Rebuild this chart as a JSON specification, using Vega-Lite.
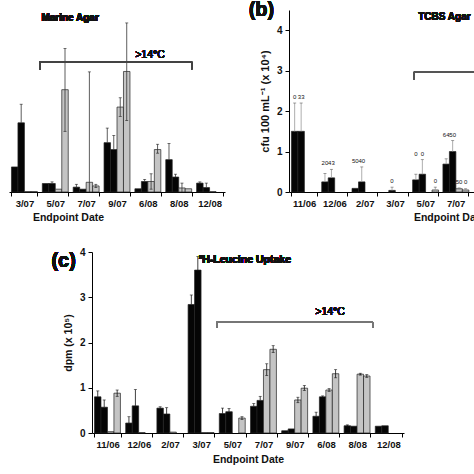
{
  "$schema": "https://vega.github.io/schema/vega-lite/v6.json",
  "padding": {"left": 9, "top": 0, "right": 0, "bottom": 0},
  "background": "white",
  "bounds": "full",
  "spacing": 24,
  "config": {
    "font": "Liberation Sans",
    "view": {"stroke": null},
    "axis": {"grid": false, "domainColor": "#000", "tickColor": "#000", "tickSize": 4, "labelColor": "#111", "labelFontWeight": "bold", "labelFontSize": 9.5, "titleFontWeight": "bold", "titleFontSize": 10.5, "titleColor": "#111", "labelPadding": 2},
    "axisX": {"labelAngle": 0, "tickBand": "extent", "titlePadding": 5},
    "axisY": {"labelFontSize": 10, "titlePadding": 6, "labelPadding": 3},
    "bar": {"stroke": "#222", "strokeWidth": 0.7}
  },
  "datasets": {
    "a": [
      {"d": "3/07", "s": "s1", "v": 0.62},
      {"d": "3/07", "s": "s2", "v": 1.71, "lo": 1.71, "hi": 2.17},
      {"d": "3/07", "s": "s3", "v": 0.01},
      {"d": "3/07", "s": "s4", "v": 0.01},
      {"d": "5/07", "s": "s1", "v": 0.21},
      {"d": "5/07", "s": "s2", "v": 0.21, "lo": 0.21, "hi": 0.25},
      {"d": "5/07", "s": "s3", "v": 0.07},
      {"d": "5/07", "s": "s4", "v": 2.53, "lo": 1.5, "hi": 3.55},
      {"d": "7/07", "s": "s1", "v": 0.12, "lo": 0.12, "hi": 0.19},
      {"d": "7/07", "s": "s2", "v": 0.07},
      {"d": "7/07", "s": "s3", "v": 0.24, "lo": 0, "hi": 2.97},
      {"d": "7/07", "s": "s4", "v": 0.15, "lo": 0.11, "hi": 0.19},
      {"d": "9/07", "s": "s1", "v": 1.22, "lo": 1.22, "hi": 1.58},
      {"d": "9/07", "s": "s2", "v": 1.05, "lo": 1.05, "hi": 1.4},
      {"d": "9/07", "s": "s3", "v": 2.1, "lo": 1.87, "hi": 2.33},
      {"d": "9/07", "s": "s4", "v": 2.98, "lo": 1.77, "hi": 4.18},
      {"d": "6/08", "s": "s1", "v": 0.08},
      {"d": "6/08", "s": "s2", "v": 0.26, "lo": 0.26, "hi": 0.31},
      {"d": "6/08", "s": "s3", "v": 0.26, "lo": 0.07, "hi": 0.45},
      {"d": "6/08", "s": "s4", "v": 1.05, "lo": 0.96, "hi": 1.18},
      {"d": "8/08", "s": "s1", "v": 0.8, "lo": 0.8, "hi": 1.2},
      {"d": "8/08", "s": "s2", "v": 0.37, "lo": 0.37, "hi": 0.44},
      {"d": "8/08", "s": "s3", "v": 0.1, "lo": 0, "hi": 0.22},
      {"d": "8/08", "s": "s4", "v": 0.08},
      {"d": "12/08", "s": "s1", "v": 0.22, "lo": 0.22, "hi": 0.25},
      {"d": "12/08", "s": "s2", "v": 0.11, "lo": 0.11, "hi": 0.22},
      {"d": "12/08", "s": "s3", "v": 0.01}
    ],
    "b": [
      {"d": "11/06", "s": "s1", "g": 1, "v": 1.5, "lo": 1.5, "hi": 2.2, "lab": "0"},
      {"d": "11/06", "s": "s2", "g": 1, "v": 1.5, "lo": 1.5, "hi": 2.2, "lab": "33"},
      {"d": "12/06", "s": "s1", "g": 1, "v": 0.25, "lo": 0.25, "hi": 0.46, "lab": "20"},
      {"d": "12/06", "s": "s2", "g": 1, "v": 0.35, "lo": 0.35, "hi": 0.56, "lab": "43"},
      {"d": "2/07", "s": "s1", "g": 1, "v": 0.09, "lab": "50"},
      {"d": "2/07", "s": "s2", "g": 1, "v": 0.25, "lo": 0.25, "hi": 0.62, "lab": "40"},
      {"d": "3/07", "s": "s2", "g": 1, "v": 0.04, "lo": 0.04, "hi": 0.12, "lab": "0"},
      {"d": "5/07", "s": "s1", "g": 1, "v": 0.3, "lo": 0.3, "hi": 0.44, "lab": "0"},
      {"d": "5/07", "s": "s2", "g": 1, "v": 0.44, "lo": 0.44, "hi": 0.8, "lab": "0"},
      {"d": "5/07", "s": "s4", "g": 2, "v": 0.05, "lo": 0, "hi": 0.12, "lab": "0"},
      {"d": "7/07", "s": "s1", "g": 1, "v": 0.69, "lo": 0.69, "hi": 0.82, "lab": "64"},
      {"d": "7/07", "s": "s2", "g": 1, "v": 1.0, "lo": 1.0, "hi": 1.27, "lab": "50"},
      {"d": "7/07", "s": "s3", "g": 2, "v": 0.08, "lo": 0.06, "hi": 0.1, "lab": "50"},
      {"d": "7/07", "s": "s4", "g": 2, "v": 0.05, "lo": 0.03, "hi": 0.08, "lab": "0"}
    ],
    "c": [
      {"d": "11/06", "s": "s1", "v": 0.8, "lo": 0.8, "hi": 0.93},
      {"d": "11/06", "s": "s2", "v": 0.57, "lo": 0.57, "hi": 0.73},
      {"d": "11/06", "s": "s3", "v": 0.03},
      {"d": "11/06", "s": "s4", "v": 0.88, "lo": 0.81, "hi": 0.95},
      {"d": "12/06", "s": "s1", "v": 0.22, "lo": 0.22, "hi": 0.36},
      {"d": "12/06", "s": "s2", "v": 0.6, "lo": 0.6, "hi": 0.96},
      {"d": "12/06", "s": "s3", "v": 0.01},
      {"d": "2/07", "s": "s1", "v": 0.55, "lo": 0.55, "hi": 0.58},
      {"d": "2/07", "s": "s2", "v": 0.42, "lo": 0.42, "hi": 0.56},
      {"d": "2/07", "s": "s3", "v": 0.02},
      {"d": "3/07", "s": "s1", "v": 2.84, "lo": 2.84, "hi": 3.05},
      {"d": "3/07", "s": "s2", "v": 3.6, "lo": 3.6, "hi": 3.9},
      {"d": "3/07", "s": "s3", "v": 0.01},
      {"d": "3/07", "s": "s4", "v": 0.01},
      {"d": "5/07", "s": "s1", "v": 0.43, "lo": 0.43, "hi": 0.55},
      {"d": "5/07", "s": "s2", "v": 0.47, "lo": 0.47, "hi": 0.54},
      {"d": "5/07", "s": "s4", "v": 0.33, "lo": 0.3, "hi": 0.36},
      {"d": "7/07", "s": "s1", "v": 0.59, "lo": 0.59, "hi": 0.65},
      {"d": "7/07", "s": "s2", "v": 0.72, "lo": 0.72, "hi": 0.81},
      {"d": "7/07", "s": "s3", "v": 1.4, "lo": 1.27, "hi": 1.53},
      {"d": "7/07", "s": "s4", "v": 1.85, "lo": 1.78, "hi": 1.93},
      {"d": "9/07", "s": "s1", "v": 0.05},
      {"d": "9/07", "s": "s2", "v": 0.09},
      {"d": "9/07", "s": "s3", "v": 0.73, "lo": 0.67, "hi": 0.79},
      {"d": "9/07", "s": "s4", "v": 0.99, "lo": 0.94, "hi": 1.05},
      {"d": "6/08", "s": "s1", "v": 0.37, "lo": 0.37, "hi": 0.46},
      {"d": "6/08", "s": "s2", "v": 0.8, "lo": 0.8, "hi": 0.82},
      {"d": "6/08", "s": "s3", "v": 0.95, "lo": 0.92, "hi": 0.98},
      {"d": "6/08", "s": "s4", "v": 1.31, "lo": 1.22, "hi": 1.4},
      {"d": "8/08", "s": "s1", "v": 0.16, "lo": 0.15, "hi": 0.18},
      {"d": "8/08", "s": "s2", "v": 0.15},
      {"d": "8/08", "s": "s3", "v": 1.3, "lo": 1.28, "hi": 1.32},
      {"d": "8/08", "s": "s4", "v": 1.26, "lo": 1.23, "hi": 1.29},
      {"d": "12/08", "s": "s1", "v": 0.15},
      {"d": "12/08", "s": "s2", "v": 0.16}
    ]
  },
  "vconcat": [
    {
      "hconcat": [
        {
          "width": 216,
          "height": 182,
          "data": {"name": "a"},
          "resolve": {"scale": {"x": "independent"}},
          "layer": [
            {
              "encoding": {
                "x": {"field": "d", "type": "nominal", "sort": null, "scale": {"domain": ["3/07", "5/07", "7/07", "9/07", "6/08", "8/08", "12/08"], "paddingInner": 0.16, "paddingOuter": 0.08}, "axis": {"title": "Endpoint Date", "titleX": 59}},
                "xOffset": {"field": "s", "type": "nominal", "scale": {"domain": ["s1", "s2", "s3", "s4"]}}
              },
              "layer": [
                {"mark": "bar", "encoding": {"y": {"field": "v", "type": "quantitative", "scale": {"domain": [0, 4.5], "nice": false}, "axis": null}, "color": {"field": "s", "type": "nominal", "scale": {"domain": ["s1", "s2", "s3", "s4"], "range": ["#050505", "#050505", "#c4c4c4", "#c4c4c4"]}, "legend": null}}},
                {"transform": [{"filter": "isValid(datum.hi)"}], "mark": {"type": "rule", "color": "#333", "strokeWidth": 0.8}, "encoding": {"y": {"field": "hi", "type": "quantitative", "axis": null}, "y2": {"field": "lo"}}},
                {"transform": [{"filter": "isValid(datum.hi)"}], "mark": {"type": "tick", "color": "#111", "thickness": 0.8, "size": 3}, "encoding": {"y": {"field": "hi", "type": "quantitative", "axis": null}}},
                {"transform": [{"filter": "isValid(datum.lo) && datum.lo < datum.v && datum.lo > 0"}], "mark": {"type": "tick", "color": "#111", "thickness": 0.8, "size": 3}, "encoding": {"y": {"field": "lo", "type": "quantitative", "axis": null}}}
              ]
            },
            {
              "layer": [
                {"mark": {"type": "rule", "color": "#444"}, "encoding": {"x": {"datum": 1, "type": "quantitative", "scale": {"domain": [0, 7]}, "axis": null}, "x2": {"datum": 5.92}, "y": {"datum": 3.22, "type": "quantitative", "axis": null}}},
                {"mark": {"type": "rule", "color": "#444"}, "encoding": {"x": {"datum": 1, "type": "quantitative", "axis": null}, "y": {"datum": 3.22, "type": "quantitative", "axis": null}, "y2": {"datum": 3.03}}},
                {"mark": {"type": "rule", "color": "#444"}, "encoding": {"x": {"datum": 5.92, "type": "quantitative", "axis": null}, "y": {"datum": 3.22, "type": "quantitative", "axis": null}, "y2": {"datum": 3.03}}},
                {"mark": {"type": "text", "text": ">14°C", "fontSize": 10.5, "color": "#111"}, "encoding": {"x": {"datum": 4.57, "type": "quantitative", "axis": null}, "y": {"datum": 3.38, "type": "quantitative", "axis": null}}},
                {"mark": {"type": "text", "text": "Marine Agar", "fontSize": 10, "fontWeight": "bold", "color": "#111"}, "encoding": {"x": {"datum": 1.98, "type": "quantitative", "axis": null}, "y": {"datum": 4.29, "type": "quantitative", "axis": null}}}
              ]
            }
          ]
        },
        {
          "width": 303,
          "height": 182,
          "data": {"name": "b"},
          "resolve": {"scale": {"x": "independent"}},
          "layer": [
            {
              "encoding": {
                "x": {"field": "d", "type": "nominal", "sort": null, "scale": {"domain": ["11/06", "12/06", "2/07", "3/07", "5/07", "7/07", "9/07", "6/08", "8/08", "12/08"], "paddingInner": 0.16, "paddingOuter": 0.08}, "axis": {"title": "Endpoint Date", "titleX": 160}},
                "xOffset": {"field": "s", "type": "nominal", "scale": {"domain": ["s1", "s2", "s3", "s4"]}}
              },
              "layer": [
                {"mark": "bar", "encoding": {"y": {"field": "v", "type": "quantitative", "scale": {"domain": [0, 4.5], "nice": false}, "axis": {"values": [0, 1, 2, 3, 4], "titleFontSize": 11}, "title": "cfu 100 mL⁻¹ (x 10⁴)"}, "color": {"field": "s", "type": "nominal", "scale": {"domain": ["s1", "s2", "s3", "s4"], "range": ["#050505", "#050505", "#c4c4c4", "#c4c4c4"]}, "legend": null}}},
                {"transform": [{"filter": "isValid(datum.hi)"}], "mark": {"type": "rule", "color": "#999", "strokeWidth": 0.8}, "encoding": {"y": {"field": "hi", "type": "quantitative", "title": "cfu 100 mL⁻¹ (x 10⁴)"}, "y2": {"field": "lo"}}},
                {"transform": [{"filter": "isValid(datum.hi)"}], "mark": {"type": "tick", "color": "#555", "thickness": 0.8, "size": 3}, "encoding": {"y": {"field": "hi", "type": "quantitative", "title": "cfu 100 mL⁻¹ (x 10⁴)"}}},
                {"transform": [{"filter": "isValid(datum.lab)"}, {"joinaggregate": [{"op": "max", "field": "hi", "as": "mx"}], "groupby": ["d", "g"]}], "mark": {"type": "text", "fontSize": 6, "dy": -6, "color": "#111"}, "encoding": {"y": {"field": "mx", "type": "quantitative", "title": "cfu 100 mL⁻¹ (x 10⁴)"}, "text": {"field": "lab"}}}
              ]
            },
            {
              "layer": [
                {"mark": {"type": "rule", "color": "#555"}, "encoding": {"x": {"datum": 4.13, "type": "quantitative", "scale": {"domain": [0, 10]}, "axis": null}, "x2": {"datum": 9}, "y": {"datum": 2.97, "type": "quantitative", "title": "cfu 100 mL⁻¹ (x 10⁴)"}}},
                {"mark": {"type": "rule", "color": "#555"}, "encoding": {"x": {"datum": 4.13, "type": "quantitative", "axis": null}, "y": {"datum": 2.97, "type": "quantitative", "title": "cfu 100 mL⁻¹ (x 10⁴)"}, "y2": {"datum": 2.78}}},
                {"mark": {"type": "rule", "color": "#555"}, "encoding": {"x": {"datum": 9, "type": "quantitative", "axis": null}, "y": {"datum": 2.97, "type": "quantitative", "title": "cfu 100 mL⁻¹ (x 10⁴)"}, "y2": {"datum": 2.78}}},
                {"mark": {"type": "text", "text": ">14°C", "fontSize": 10.5, "color": "#111"}, "encoding": {"x": {"datum": 7.6, "type": "quantitative", "axis": null}, "y": {"datum": 3.15, "type": "quantitative", "title": "cfu 100 mL⁻¹ (x 10⁴)"}}},
                {"mark": {"type": "text", "text": "TCBS Agar", "fontSize": 10, "fontWeight": "bold", "color": "#111"}, "encoding": {"x": {"datum": 5.13, "type": "quantitative", "axis": null}, "y": {"datum": 4.33, "type": "quantitative", "title": "cfu 100 mL⁻¹ (x 10⁴)"}}},
                {"mark": {"type": "text", "text": "(b)", "fontSize": 20, "fontWeight": "bold", "color": "#111"}, "encoding": {"x": {"datum": -0.91, "type": "quantitative", "axis": null}, "y": {"datum": 4.495, "type": "quantitative", "title": "cfu 100 mL⁻¹ (x 10⁴)"}}}
              ]
            }
          ]
        }
      ],
      "spacing": 64,
      "bounds": "flush"
    },
    {
      "width": 395,
      "height": 181,
      "data": {"name": "c"},
      "resolve": {"scale": {"x": "independent"}},
      "layer": [
        {
          "encoding": {
            "x": {"field": "d", "type": "nominal", "sort": null, "scale": {"domain": ["11/06", "12/06", "2/07", "3/07", "5/07", "7/07", "9/07", "6/08", "8/08", "12/08"], "range": [83, 395], "paddingInner": 0.16, "paddingOuter": 0.08}, "axis": {"title": "Endpoint Date", "titlePadding": 6}},
            "xOffset": {"field": "s", "type": "nominal", "scale": {"domain": ["s1", "s2", "s3", "s4"]}}
          },
          "layer": [
            {"mark": "bar", "encoding": {"y": {"field": "v", "type": "quantitative", "scale": {"domain": [0, 4], "nice": false}, "axis": {"values": [0, 1, 2, 3, 4], "offset": -83}, "title": "dpm (x 10⁵)"}, "color": {"field": "s", "type": "nominal", "scale": {"domain": ["s1", "s2", "s3", "s4"], "range": ["#050505", "#050505", "#c4c4c4", "#c4c4c4"]}, "legend": null}}},
            {"transform": [{"filter": "isValid(datum.hi)"}], "mark": {"type": "rule", "color": "#111", "strokeWidth": 0.8}, "encoding": {"y": {"field": "hi", "type": "quantitative", "title": "dpm (x 10⁵)"}, "y2": {"field": "lo"}}},
            {"transform": [{"filter": "isValid(datum.hi)"}], "mark": {"type": "tick", "color": "#111", "thickness": 0.8, "size": 3}, "encoding": {"y": {"field": "hi", "type": "quantitative", "title": "dpm (x 10⁵)"}}},
            {"transform": [{"filter": "isValid(datum.lo) && datum.lo < datum.v"}], "mark": {"type": "tick", "color": "#111", "thickness": 0.8, "size": 3}, "encoding": {"y": {"field": "lo", "type": "quantitative", "title": "dpm (x 10⁵)"}}}
          ]
        },
        {
          "layer": [
            {"mark": {"type": "rule", "color": "#777"}, "encoding": {"x": {"datum": 4, "type": "quantitative", "scale": {"domain": [0, 10], "range": [83, 395]}, "axis": null}, "x2": {"datum": 9}, "y": {"datum": 2.45, "type": "quantitative", "title": "dpm (x 10⁵)"}}},
            {"mark": {"type": "rule", "color": "#777"}, "encoding": {"x": {"datum": 4, "type": "quantitative", "axis": null}, "y": {"datum": 2.45, "type": "quantitative", "title": "dpm (x 10⁵)"}, "y2": {"datum": 2.33}}},
            {"mark": {"type": "rule", "color": "#777"}, "encoding": {"x": {"datum": 9, "type": "quantitative", "axis": null}, "y": {"datum": 2.45, "type": "quantitative", "title": "dpm (x 10⁵)"}, "y2": {"datum": 2.33}}},
            {"mark": {"type": "text", "text": ">14°C", "fontSize": 10.5, "color": "#111"}, "encoding": {"x": {"datum": 7.63, "type": "quantitative", "axis": null}, "y": {"datum": 2.67, "type": "quantitative", "title": "dpm (x 10⁵)"}}},
            {"mark": {"type": "text", "text": "³H-Leucine Uptake", "fontSize": 10.5, "fontWeight": "bold", "color": "#111"}, "encoding": {"x": {"datum": 4.9, "type": "quantitative", "axis": null}, "y": {"datum": 3.82, "type": "quantitative", "title": "dpm (x 10⁵)"}}},
            {"mark": {"type": "text", "text": "(c)", "fontSize": 20, "fontWeight": "bold", "color": "#111"}, "encoding": {"x": {"datum": -0.91, "type": "quantitative", "axis": null}, "y": {"datum": 3.8, "type": "quantitative", "title": "dpm (x 10⁵)"}}}
          ]
        }
      ]
    }
  ]
}
